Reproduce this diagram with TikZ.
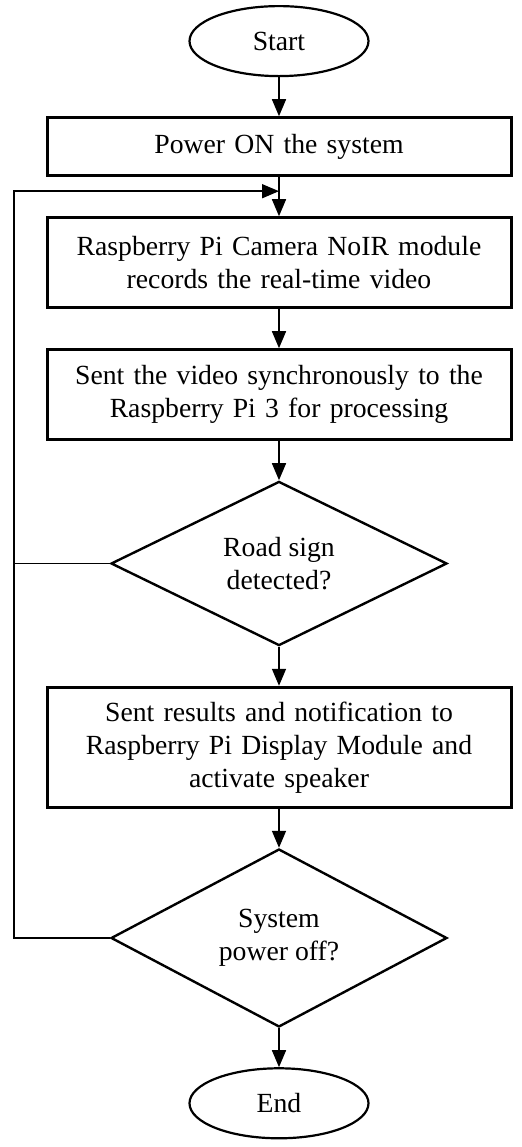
\documentclass[tikz,border=0pt]{standalone}
\usepackage{fontspec}
\setmainfont{Liberation Serif}
\usetikzlibrary{positioning,arrows.meta,shapes.geometric}

\begin{document}
\begin{tikzpicture}[
  every node/.style={font=\fontsize{13.85}{16.5}\selectfont},
  startstop/.style={draw, ellipse, line width=1.1pt, minimum width=89.5pt, minimum height=35pt, inner sep=0pt},
  process/.style={draw, rectangle, line width=1.5pt, minimum width=232pt, text width=224pt, align=center, inner sep=0pt},
  decision/.style={draw, diamond, line width=1.2pt, minimum width=168pt, align=center, inner sep=0pt},
  node distance=19.5pt,
  >={Triangle[length=8.5pt,width=7pt]}]
  \useasboundingbox (0,0) rectangle (260.5pt,-573.5pt);
  \node (start) [startstop, anchor=north] at (139.5pt,-2.5pt) {Start};
  \node (power) [process, minimum height=29pt, below=of start] {Power ON the system};
  \node (cam) [process, minimum height=45pt, below=of power] {Raspberry Pi Camera NoIR module\\ records the real-time video};
  \node (send) [process, minimum height=45pt, below=of cam] {Sent the video synchronously to the\\ Raspberry Pi 3 for processing};
  \node (sign) [decision, minimum height=82pt, below=of send] {Road sign\\ detected?};
  \node (notify) [process, minimum height=60pt, below=of sign] {Sent results and notification to\\ Raspberry Pi Display Module and\\ activate speaker};
  \node (off) [decision, minimum height=89pt, below=of notify] {System\\ power off?};
  \node (stop) [startstop, below=of off] {End};
  \coordinate (join) at ([yshift=-7pt]power.south);
  \coordinate (rail) at (7pt,0);
  \path[->, line width=0.8pt]
  (start) edge (power)
  (power) edge (cam)
  (cam) edge (send)
  (send) edge (sign)
  (sign) edge (notify)
  (notify) edge (off)
  (off) edge (stop)
          ;
  % loops back to the camera step
  \draw[line width=0.8pt] (sign.west) -- (sign.west -| rail);
  \draw[->, line width=0.8pt] (off.west) -- (off.west -| rail) |- (join);
\end{tikzpicture}
\end{document}
